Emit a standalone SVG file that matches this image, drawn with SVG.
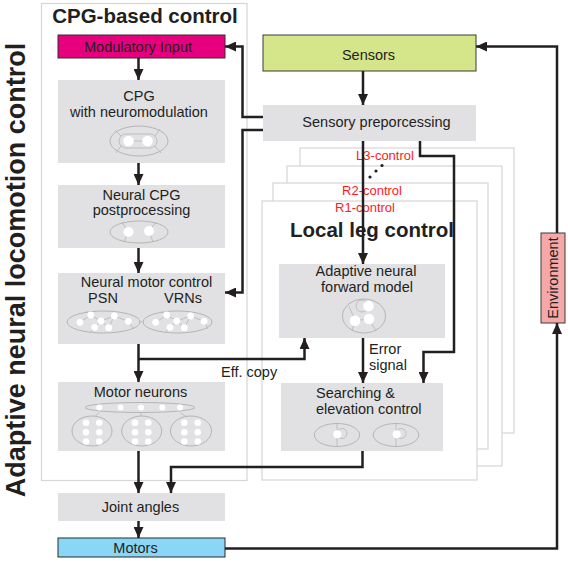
<svg xmlns="http://www.w3.org/2000/svg" width="568" height="561" viewBox="0 0 568 561">
<defs>
<style>
.t{font-family:"Liberation Sans",Arial,sans-serif;font-size:14.5px;fill:#231f20}
.tm{text-anchor:middle}
.b{font-family:"Liberation Sans",Arial,sans-serif;font-weight:bold;fill:#231f20}
.red{font-family:"Liberation Sans",Arial,sans-serif;font-size:13px;fill:#ff1a1a;text-anchor:middle}
.gbox{fill:#e1e1e3;stroke:none}
.frame{fill:#ffffff;stroke:#d6d6d6;stroke-width:1.2}
.ell{fill:none;stroke:#b5b5b5;stroke-width:1}
.net{stroke:#b5b5b5;stroke-width:0.8;fill:none}
.dot{fill:#ffffff}
.conn{fill:none;stroke:#231f20;stroke-width:2.5;stroke-linejoin:miter}
</style>
<marker id="ah" markerUnits="userSpaceOnUse" markerWidth="11" markerHeight="10" refX="11" refY="5" orient="auto">
<path d="M0,0 L11,5 L0,10 z" fill="#231f20"/>
</marker>
</defs>
<rect width="568" height="561" fill="#ffffff"/>

<text class="b" font-size="27" text-anchor="middle" transform="translate(24.5,270) rotate(-90)">Adaptive neural locomotion control</text>

<g id="cpg-frame">
<rect class="frame" x="41.5" y="3.5" width="205.5" height="477"/>
<text class="b" font-size="20.5" x="145" y="23" text-anchor="middle">CPG-based control</text>
</g>

<g id="leg-frames">
<rect class="frame" x="300" y="148" width="214" height="285"/>
<rect class="frame" x="287" y="166" width="215" height="300"/>
<rect class="frame" x="273" y="183" width="215" height="266"/>
<rect class="frame" x="262" y="201" width="215" height="279"/>
<text class="red" x="385" y="160">L3-control</text>
<circle cx="382" cy="165.5" r="1.6" fill="#231f20"/>
<circle cx="376" cy="171" r="1.6" fill="#231f20"/>
<circle cx="370" cy="177" r="1.6" fill="#231f20"/>
<text class="red" x="372" y="195">R2-control</text>
<text class="red" x="365" y="212">R1-control</text>
<text class="b" font-size="20.5" x="372" y="237" text-anchor="middle">Local leg control</text>
</g>

<g id="modulatory-input">
<rect x="58" y="35" width="167" height="23" fill="#e6007e" stroke="#3a2a30" stroke-width="1"/>
<text class="t tm" x="138" y="52">Modulatory Input</text>
</g>

<g id="cpg">
<rect class="gbox" x="58" y="80" width="167" height="83"/>
<text class="t tm" x="139" y="101">CPG</text>
<text class="t tm" x="139" y="117">with neuromodulation</text>
<ellipse class="ell" cx="139" cy="141" rx="29" ry="15"/>
<rect class="net" x="119" y="134" width="38" height="14" rx="7"/>
<path class="net" d="M121,136 L115,130 M121,146 L116,153 M155,136 L160,129 M155,146 L161,153 M128,141 L148,141"/>
<circle class="dot" cx="128.5" cy="141" r="5.3"/>
<circle class="dot" cx="147.5" cy="141" r="5.3"/>
</g>

<g id="cpg-post">
<rect class="gbox" x="58" y="185" width="167" height="63"/>
<text class="t tm" x="141.5" y="200">Neural CPG</text>
<text class="t tm" x="141.5" y="215">postprocessing</text>
<ellipse class="ell" cx="139" cy="232" rx="29" ry="11"/>
<path class="net" d="M122,222 L128,232 M128,232 L124,242 M149,231 L156,222 M149,231 L153,242"/>
<circle class="dot" cx="128.5" cy="232" r="5"/>
<circle class="dot" cx="149" cy="231" r="5"/>
</g>

<g id="neural-motor-control">
<rect class="gbox" x="58" y="273" width="167" height="71"/>
<text class="t tm" x="146.5" y="287">Neural motor control</text>
<text class="t tm" x="103" y="303">PSN</text>
<text class="t tm" x="183" y="303">VRNs</text>
<ellipse class="ell" cx="103.5" cy="322" rx="36.5" ry="11"/>
<ellipse class="ell" cx="177.5" cy="322" rx="34.5" ry="11"/>
<path class="net" d="M140,322 L143,322"/>
<path class="net" d="M80,322 L90.7,315 L101,321 L114.3,316 L128.3,321.3 M101,321 L94.7,327.3 M101,321 L108.7,327.7 L114.3,316 M90.7,315 L86,311.5 M128.3,321.3 L134,329 M94.7,327.3 L90,332.5"/>
<path class="net" d="M155.7,322.3 L166.7,315 L176.7,321 L190.7,316 L204,321.3 M176.7,321 L170,327.3 M176.7,321 L184.3,327.7 L190.7,316 M166.7,315 L161,311.5 M204,321.3 L208,329 M170,327.3 L165,332.5"/>
<g class="dot">
<circle cx="90.7" cy="315" r="3.4"/><circle cx="80" cy="322.3" r="3.4"/><circle cx="101" cy="321" r="3.4"/><circle cx="114.3" cy="316" r="3.4"/><circle cx="94.7" cy="327.3" r="3.4"/><circle cx="108.7" cy="327.7" r="3.4"/><circle cx="128.3" cy="321.3" r="3.4"/>
<circle cx="166.7" cy="315" r="3.4"/><circle cx="155.7" cy="322.3" r="3.4"/><circle cx="176.7" cy="321" r="3.4"/><circle cx="190.7" cy="316" r="3.4"/><circle cx="170" cy="327.3" r="3.4"/><circle cx="184.3" cy="327.7" r="3.4"/><circle cx="204" cy="321.3" r="3.4"/>
</g>
</g>

<g id="motor-neurons">
<rect class="gbox" x="58" y="382" width="167" height="69"/>
<text class="t tm" x="140.5" y="397">Motor neurons</text>
<ellipse class="ell" cx="140" cy="407.5" rx="55" ry="5"/>
<path class="net" d="M99,412.5 L95,416.5 M141,412.5 L141,416 M180,412.5 L186,416.5"/>
<ellipse class="ell" cx="92" cy="431" rx="20" ry="15"/>
<ellipse class="ell" cx="141.7" cy="431" rx="20" ry="15"/>
<ellipse class="ell" cx="191" cy="431" rx="20.5" ry="15"/>
<g class="dot">
<circle cx="99.3" cy="407.5" r="3"/><circle cx="120.7" cy="407.5" r="3"/><circle cx="141" cy="407.5" r="3"/><circle cx="162.3" cy="407.5" r="3"/><circle cx="180" cy="407.5" r="3"/>
<circle cx="86" cy="422.7" r="3.3"/><circle cx="99.3" cy="422.7" r="3.3"/><circle cx="86" cy="432.3" r="3.3"/><circle cx="99.3" cy="432.3" r="3.3"/><circle cx="86" cy="441.5" r="3.3"/><circle cx="99.3" cy="441.5" r="3.3"/>
<circle cx="135" cy="422.7" r="3.3"/><circle cx="148.3" cy="422.7" r="3.3"/><circle cx="135" cy="432.3" r="3.3"/><circle cx="148.3" cy="432.3" r="3.3"/><circle cx="135" cy="441.5" r="3.3"/><circle cx="148.3" cy="441.5" r="3.3"/>
<circle cx="184.3" cy="422.7" r="3.3"/><circle cx="197.7" cy="422.7" r="3.3"/><circle cx="184.3" cy="432.3" r="3.3"/><circle cx="197.7" cy="432.3" r="3.3"/><circle cx="184.3" cy="441.5" r="3.3"/><circle cx="197.7" cy="441.5" r="3.3"/>
</g>
</g>

<g id="joint-angles">
<rect class="gbox" x="58" y="493" width="167" height="28"/>
<text class="t tm" x="140.5" y="512">Joint angles</text>
</g>

<g id="motors">
<rect x="58" y="538" width="167" height="19" fill="#89d6f6" stroke="#2a2a2a" stroke-width="1"/>
<text class="t tm" x="135.5" y="553">Motors</text>
</g>

<g id="sensors">
<rect x="263" y="35" width="213" height="36" fill="#d5e58a" stroke="#3a3a3a" stroke-width="1"/>
<text class="t tm" x="368.5" y="60">Sensors</text>
</g>

<g id="sensory-preprocessing">
<rect class="gbox" x="263" y="105" width="213" height="36"/>
<text class="t tm" x="376.5" y="127">Sensory preporcessing</text>
</g>

<g id="forward-model">
<rect class="gbox" x="279" y="264" width="166" height="74"/>
<text class="t tm" x="366" y="276">Adaptive neural</text>
<text class="t tm" x="367" y="292">forward model</text>
<ellipse class="ell" cx="364" cy="316" rx="21.5" ry="17"/>
<circle class="net" cx="362" cy="306" r="6"/>
<path class="net" d="M355,320.7 L349,306 M355,320.7 L369,319 M369,319 L376,331 M355,320.7 L352,331"/>
<g class="dot"><circle cx="368.5" cy="306" r="5.3"/><circle cx="355" cy="320.7" r="5.3"/><circle cx="369" cy="319" r="5.3"/></g>
</g>

<g id="searching">
<rect class="gbox" x="281" y="383" width="162" height="68"/>
<text class="t" x="316" y="398">Searching &amp;</text>
<text class="t" x="316" y="414">elevation control</text>
<ellipse class="ell" cx="337" cy="435" rx="22.7" ry="11.5"/>
<ellipse class="ell" cx="396" cy="435" rx="22.8" ry="11.5"/>
<path class="net" d="M337,423.5 L337,446.5 M396,423.5 L396,446.5"/>
<circle class="net" cx="342" cy="433.5" r="5"/>
<circle class="net" cx="401" cy="433.5" r="5"/>
<circle class="dot" cx="337.3" cy="434.3" r="4"/>
<circle class="dot" cx="396.7" cy="434.3" r="4"/>
</g>

<g id="environment">
<rect x="541" y="233" width="24" height="90" fill="#f6a8a8" stroke="#3a3a3a" stroke-width="1"/>
<text class="t tm" transform="translate(557.5,278) rotate(-90)">Environment</text>
</g>

<g id="connectors">
<path class="conn" marker-end="url(#ah)" d="M138.5,58 V80"/>
<path class="conn" marker-end="url(#ah)" d="M138.5,163 V185"/>
<path class="conn" marker-end="url(#ah)" d="M138.5,248 V273"/>
<path class="conn" marker-end="url(#ah)" d="M138.5,344 V382"/>
<path class="conn" marker-end="url(#ah)" d="M138.5,359 H304.5 V338"/>
<path class="conn" marker-end="url(#ah)" d="M138.5,451 V493"/>
<path class="conn" marker-end="url(#ah)" d="M362.5,451 V467 H171 V493"/>
<path class="conn" marker-end="url(#ah)" d="M138.5,521 V538"/>
<path class="conn" marker-end="url(#ah)" d="M225,548.5 H557 V323"/>
<path class="conn" marker-end="url(#ah)" d="M557,233 V46.5 H476"/>
<path class="conn" marker-end="url(#ah)" d="M363,71 V105"/>
<path class="conn" marker-end="url(#ah)" d="M263,117 H242.5 V46.5 H225"/>
<path class="conn" marker-end="url(#ah)" d="M263,130 H242.5 V292.5 H225"/>
<path class="conn" marker-end="url(#ah)" d="M363,141 V264"/>
<path class="conn" marker-end="url(#ah)" d="M420,141 V156 H454 V352 H423.5 V383"/>
<path class="conn" marker-end="url(#ah)" d="M363,338 V383"/>
<text class="t" x="221" y="377">Eff. copy</text>
<text class="t" x="369" y="354">Error</text>
<text class="t" x="369" y="370">signal</text>
</g>
</svg>
